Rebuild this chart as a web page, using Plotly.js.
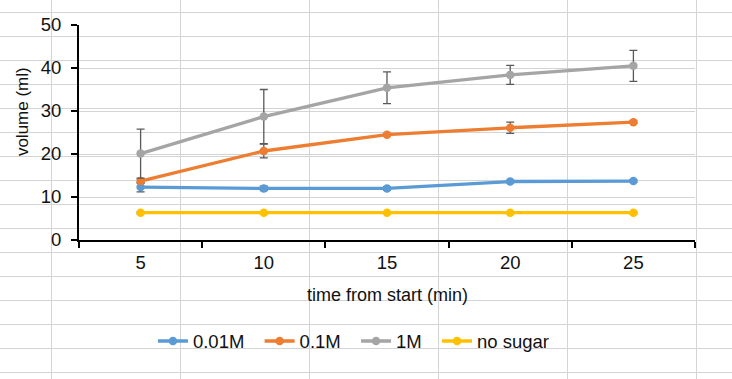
<!DOCTYPE html>
<html>
<head>
<meta charset="utf-8">
<script src="https://cdn.plot.ly/plotly-3.0.1.min.js"></script>
<style>
  html, body { margin: 0; padding: 0; }
  body {
    width: 732px; height: 379px; overflow: hidden;
    background-color: #ffffff;
    background-image:
      linear-gradient(to right, #d4d4d4 1px, transparent 1px),
      linear-gradient(to bottom, #d4d4d4 1px, transparent 1px);
    background-size: 129px 24px;
    background-position: 51px 12px;
  }
  #chart { width: 732px; height: 379px; }
</style>
</head>
<body>
<div id="chart"></div>
<script>
// Categories (time from start, min)
const times = ["5", "10", "15", "20", "25"];

// Series values (volume, ml)
const vol001 = [12.3, 12.0, 12.0, 13.6, 13.7];
const vol01  = [13.7, 20.7, 24.5, 26.1, 27.4];
const vol1   = [20.1, 28.7, 35.4, 38.4, 40.5];
const volNo  = [6.35, 6.35, 6.35, 6.35, 6.35];

// Error bar sizes
const err001 = [1.1, 0.5, 0.4, 0.3, 0.3];
const err01  = [0.5, 1.6, 0.3, 1.3, 0.3];
const err1   = [5.7, 6.3, 3.7, 2.2, 3.6];
const errNo  = [0.2, 0.2, 0.2, 0.2, 0.2];

const seriesNames = ["0.01M", "0.1M", "1M", "no sugar"];
const seriesColors = ["#5B9BD5", "#ED7D31", "#A5A5A5", "#FFC000"];
const seriesValues = [vol001, vol01, vol1, volNo];
const seriesErrors = [err001, err01, err1, errNo];

const pad = "\u00a0\u00a0";
const traces = seriesNames.map((name, i) => ({
  type: "scatter",
  mode: "lines+markers",
  name: name + (i < seriesNames.length - 1 ? pad : ""),
  x: times,
  y: seriesValues[i],
  line: { color: seriesColors[i], width: 3.3 },
  marker: { color: seriesColors[i], size: 8.5 },
  error_y: {
    type: "data", array: seriesErrors[i], visible: true,
    color: "#595959", thickness: 1.3, width: 4
  },
  cliponaxis: false
}));

const font = "Liberation Sans, Arial, sans-serif";

const layout = {
  width: 732, height: 379,
  margin: { l: 79, r: 37, t: 25, b: 139 },
  paper_bgcolor: "rgba(0,0,0,0)",
  plot_bgcolor: "rgba(0,0,0,0)",
  showlegend: true,
  font: { family: font, color: "#111111" },
  xaxis: {
    type: "category",
    range: [-0.5, 4.5],
    showline: true, linecolor: "#000000", linewidth: 2,
    ticks: "outside", tickson: "boundaries", ticklen: 6, tickwidth: 2, tickcolor: "#000000",
    showgrid: false, zeroline: false,
    tickfont: { family: font, size: 18.5, color: "#111111" },
    ticklabelstandoff: 5
  },
  yaxis: {
    range: [0, 50], dtick: 10,
    showline: true, linecolor: "#000000", linewidth: 2,
    ticks: "outside", ticklen: 6, tickwidth: 2, tickcolor: "#000000",
    showgrid: true, gridcolor: "#d4d4d4", gridwidth: 1,
    zeroline: false,
    tickfont: { family: font, size: 18.5, color: "#111111" },
    ticklabelstandoff: 6
  },
  legend: {
    orientation: "h",
    x: 0.12, xanchor: "left",
    y: -0.472, yanchor: "middle",
    font: { family: font, size: 18.5, color: "#111111" },
    bgcolor: "rgba(0,0,0,0)"
  },
  annotations: [
    {
      text: "volume (ml)", xref: "paper", yref: "paper",
      x: -0.0925, y: 0.595, xanchor: "center", yanchor: "middle",
      textangle: -90, showarrow: false,
      font: { family: font, size: 17, color: "#111111" }
    },
    {
      text: "time from start (min)", xref: "paper", yref: "paper",
      x: 0.5, y: -0.2535, xanchor: "center", yanchor: "middle",
      showarrow: false,
      font: { family: font, size: 18, color: "#111111" }
    }
  ]
};

Plotly.newPlot("chart", traces, layout, { displayModeBar: false, staticPlot: true });
</script>
</body>
</html>
